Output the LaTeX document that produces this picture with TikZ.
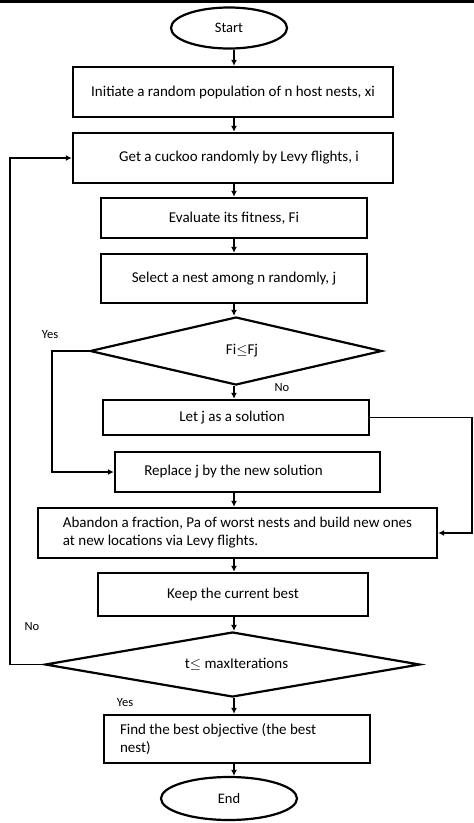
\documentclass[tikz,border=0pt]{standalone}
\usepackage{fontspec}
\setmainfont{Carlito}
\usetikzlibrary{shapes.geometric,arrows.meta}
\begin{document}
\begin{tikzpicture}[x=1pt,y=-1pt,
  box/.style={draw,line width=2.4pt,rectangle,inner sep=0pt,font=\fontsize{15}{18}\selectfont},
  term/.style={draw,line width=2.2pt,ellipse,inner sep=0pt,font=\fontsize{14.5}{17}\selectfont},
  dec/.style={draw,line width=2.2pt,diamond,shape aspect=4,inner sep=0pt,font=\fontsize{15}{18}\selectfont},
  arr/.style={line width=1.6pt,-{Latex[length=6pt,width=6pt]}},
  lab/.style={font=\fontsize{12.5}{15}\selectfont,inner sep=0pt}]
\useasboundingbox (0,0) rectangle (474,823);
\fill[black] (0,0) rectangle (474,3);
\coordinate (spine) at (234,0);
\coordinate (yesc) at (52,0);
\coordinate (rc) at (472,0);
\coordinate (lc) at (10,0);
\node[term,minimum width=116pt,minimum height=41pt] (start) at (229,28) {Start};
\node[box,minimum width=320pt,minimum height=50pt] (b1) at (233,92) {Initiate a random population of n host nests, xi};
\node[box,minimum width=320pt,minimum height=50pt] (b2) at (233,158) {\hspace*{12pt}Get a cuckoo randomly by Levy flights, i};
\node[box,minimum width=266pt,minimum height=40pt] (b3) at (234,218) {Evaluate its fitness, Fi};
\node[box,minimum width=266pt,minimum height=49pt] (b4) at (234,278.5) {Select a nest among n randomly, j};
\node[dec,minimum width=292pt,minimum height=68pt] (d1) at (236,351) {\hspace*{12pt}Fi$\leq$Fj};
\node[box,minimum width=266pt,minimum height=35pt] (let) at (236,417.5) {Let j as a solution\hspace*{8pt}};
\node[box,minimum width=265pt,minimum height=40pt] (rep) at (247.5,472) {Replace j by the new solution\hspace*{28pt}};
\node[box,minimum width=399pt,minimum height=50pt,align=left] (ab) at (237.5,533) {Abandon a fraction, Pa of worst nests and build new ones\\at new locations via Levy flights.};
\node[box,minimum width=270pt,minimum height=43pt] (keep) at (233,594.5) {Keep the current best};
\node[dec,minimum width=375pt,minimum height=65pt] (d2) at (232.5,664.5) {\hspace*{8pt}t$\leq$ maxIterations};
\node[box,minimum width=266pt,minimum height=48pt,align=flush left,text width=234pt] (find) at (237,739) {Find the best objective (the best\\nest)};
\node[term,minimum width=136pt,minimum height=43pt] (end) at (229,798.5) {End};
\node[lab] (y1) at (50,335) {Yes};
\node[lab] (n1) at (282,388) {No};
\node[lab] (n2) at (32,627) {No};
\node[lab] (y2) at (125,703) {Yes};
\draw[arr] (start.south -| spine) -- (b1.north -| spine);
\draw[arr] (b1.south -| spine) -- (b2.north -| spine);
\draw[arr] (b2.south -| spine) -- (b3.north -| spine);
\draw[arr] (b3.south -| spine) -- (b4.north -| spine);
\draw[arr] (b4.south -| spine) -- (d1.north -| spine);
\draw[arr] (d1.south -| spine) -- (let.north -| spine);
\draw[arr] (rep.south -| spine) -- (ab.north -| spine);
\draw[arr] (ab.south -| spine) -- (keep.north -| spine);
\draw[arr] (keep.south -| spine) -- (d2.north -| spine);
\draw[arr] (d2.south -| spine) -- (find.north -| spine);
\draw[arr] (find.south -| spine) -- (end.north -| spine);
\draw[arr] (d1.west) -- (d1.west -| yesc) |- (rep.west);
\draw[arr] (let.east) -- (let.east -| rc) |- (ab.east);
\draw[arr] (d2.west) -- (d2.west -| lc) |- (b2.west);
\end{tikzpicture}
\end{document}
